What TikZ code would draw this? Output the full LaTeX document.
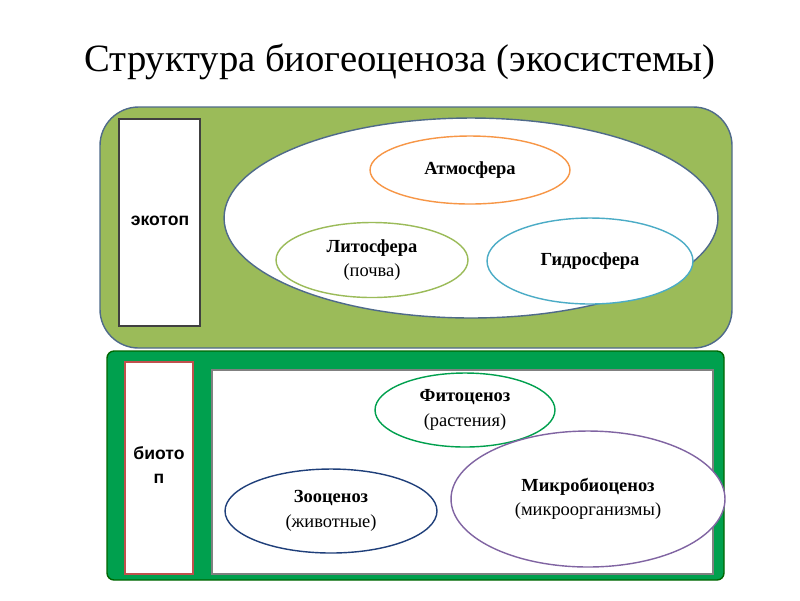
\documentclass[tikz,border=0pt]{standalone}
\usepackage{fontspec}
\setmainfont{Liberation Serif}
\newfontfamily\labelsans{Liberation Sans}
\usetikzlibrary{shapes.geometric}
\definecolor{olivegreen}{HTML}{9BBB59}
\definecolor{darkgreen}{HTML}{00A04E}
\definecolor{framegrey}{HTML}{4F6A8A}
\definecolor{atmocol}{HTML}{F79646}
\definecolor{hydrocol}{HTML}{4BACC6}
\definecolor{zoocol}{HTML}{1F3F7A}
\definecolor{microcol}{HTML}{8064A2}
\definecolor{bioredcol}{HTML}{C0504D}
\tikzset{
  sphere/.style={ellipse,draw,thick,fill=white,align=center,font=\fontsize{10.5}{14}\selectfont},
  sidebox/.style={draw,thick,fill=white,align=center,font=\labelsans\bfseries\fontsize{10}{13}\selectfont},
}
\begin{document}
\begin{tikzpicture}[x=0.02cm,y=-0.02cm]
\useasboundingbox (0,0) rectangle (800,600);
\node (title) at (400,62) {\fontsize{22}{26}\selectfont Структура биогеоценоза (экосистемы)};
% ecotope part
\draw[thick,draw=framegrey,fill=olivegreen,rounded corners=22pt] (100,107) rectangle (732,348);
\draw[thick,draw=darkgray,fill=white] (119,119) rectangle (200,326);
\node[font=\labelsans\bfseries\fontsize{10}{13}\selectfont] (ekotop) at (160,221) {экотоп};
\node[sphere,draw=framegrey,minimum width=9.88cm,minimum height=4cm] (abiotic) at (471,218) {};
\node[sphere,draw=atmocol,minimum width=4cm,minimum height=1.36cm] (atmo) at (470,170) {\textbf{Атмосфера}};
\node[sphere,draw=olivegreen,minimum width=3.84cm,minimum height=1.4cm] (litho) at (372,260) {\textbf{Литосфера}\\(почва)};
\node[sphere,draw=hydrocol,minimum width=4.12cm,minimum height=1.72cm] (hydro) at (590,261) {\textbf{Гидросфера}};
% biotope part
\draw[thick,draw=green!40!black,fill=darkgreen,rounded corners=4pt] (107,351) rectangle (724,580);
\draw[thick,draw=bioredcol,fill=white] (125,362) rectangle (193,574);
\node[font=\labelsans\bfseries\fontsize{10}{14}\selectfont,align=center] (biotop) at (159,465) {биото\\п};
\draw[thick,draw=gray,fill=white] (212,370) rectangle (713,574);
\node[sphere,draw=darkgreen,minimum width=3.6cm,minimum height=1.32cm] (phyto) at (465,410) {\textbf{Фитоценоз}\\(растения)};
\node[sphere,draw=zoocol,minimum width=4.24cm,minimum height=1.68cm] (zoo) at (331,511) {\textbf{Зооценоз}\\(животные)};
\node[sphere,draw=microcol,minimum width=5.48cm,minimum height=2.72cm] (micro) at (588,499) {\textbf{Микробиоценоз}\\(микроорганизмы)};
\end{tikzpicture}
\end{document}
